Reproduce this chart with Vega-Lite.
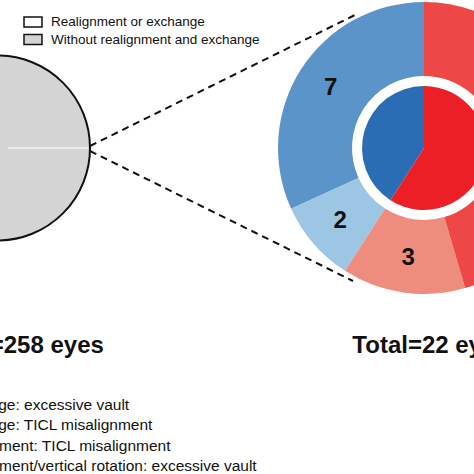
{
  "$schema": "https://vega.github.io/schema/vega-lite/v6.json",
  "width": 474,
  "height": 296,
  "autosize": "none",
  "padding": {"left": 0, "top": 0, "right": 0, "bottom": 178},
  "background": "white",
  "config": {"view": {"stroke": null}, "font": "Liberation Sans"},
  "datasets": {
    "left": [
      {"panel": "Total=258 eyes", "group": "Without realignment and exchange", "eyes": 258}
    ],
    "outer": [
      {"panel": "Total=22 eyes", "group": "Exchange: excessive vault", "eyes": 7},
      {"panel": "Total=22 eyes", "group": "Exchange: TICL misalignment", "eyes": 2},
      {"panel": "Total=22 eyes", "group": "Realignment: TICL misalignment", "eyes": 3},
      {"panel": "Total=22 eyes", "group": "Realignment/vertical rotation: excessive vault", "eyes": 10}
    ],
    "inner": [
      {"panel": "Total=22 eyes", "group": "Exchange", "eyes": 9},
      {"panel": "Total=22 eyes", "group": "Realignment", "eyes": 13}
    ],
    "connectors": [
      {"x": 90, "y": 146, "x2": 355, "y2": 15},
      {"x": 90, "y": 151, "x2": 353, "y2": 281}
    ],
    "divider": [
      {"x": 8, "y": 148, "x2": 88, "y2": 148}
    ]
  },
  "layer": [
    {
      "data": {"name": "connectors"},
      "mark": {"type": "rule", "color": "#111111", "strokeWidth": 2, "strokeDash": [7, 5]},
      "encoding": {
        "x": {"field": "x", "type": "quantitative", "scale": {"domain": [0, 474], "nice": false, "zero": false}, "axis": null},
        "x2": {"field": "x2"},
        "y": {"field": "y", "type": "quantitative", "scale": {"domain": [0, 296], "nice": false, "zero": false, "reverse": true}, "axis": null},
        "y2": {"field": "y2"}
      }
    },
    {
      "layer": [
        {
          "data": {"name": "left"},
          "mark": {"type": "arc", "radius": 92.5, "stroke": "#111111", "strokeWidth": 2},
          "encoding": {
            "theta": {"field": "eyes", "type": "quantitative", "stack": true},
            "fill": {
              "field": "group", "type": "nominal",
              "scale": {"domain": ["Realignment or exchange", "Without realignment and exchange"], "range": ["#FFFFFF", "#D4D4D4"]},
              "legend": {
                "title": null, "orient": "none", "legendX": 26, "legendY": 15, "padding": 0,
                "symbolType": "M-1.5,-0.83H1.5V0.83H-1.5Z", "symbolSize": 144,
                "symbolStrokeColor": "#111111", "symbolStrokeWidth": 1.5,
                "labelFontSize": 13.5, "labelFont": "Liberation Sans", "labelColor": "#111111",
                "labelOffset": 11, "rowPadding": 1.5, "labelLimit": 0
              }
            }
          }
        },
        {
          "data": {"name": "outer"},
          "transform": [{"window": [{"op": "row_number", "as": "idx"}]}],
          "encoding": {
            "theta": {"field": "eyes", "type": "quantitative", "stack": true, "scale": {"range": [6.283185, 0]}},
            "order": {"field": "idx", "type": "quantitative"}
          },
          "layer": [
            {
              "mark": {"type": "arc", "radius": 146, "radius2": 72},
              "encoding": {
                "fill": {
                  "field": "group", "type": "nominal",
                  "scale": {
                    "domain": ["Exchange: excessive vault", "Exchange: TICL misalignment", "Realignment: TICL misalignment", "Realignment/vertical rotation: excessive vault"],
                    "range": ["#5B94C9", "#9DC5E4", "#EE8D7E", "#EE4747"]
                  },
                  "legend": {
                    "title": null, "orient": "none", "legendX": -75, "legendY": 397, "padding": 0,
                    "symbolType": "square", "symbolSize": 100,
                    "labelFontSize": 15.5, "labelFont": "Liberation Sans", "labelColor": "#111111",
                    "labelOffset": 6, "rowPadding": 3.5, "labelLimit": 0
                  }
                }
              }
            },
            {
              "mark": {"type": "text", "radius": 111, "fontSize": 24, "fontWeight": "bold", "color": "#111111", "font": "Liberation Sans"},
              "encoding": {
                "detail": {"field": "group", "type": "nominal"},
                "text": {"field": "eyes", "type": "quantitative"}
              }
            }
          ]
        },
        {
          "data": {"name": "inner"},
          "mark": {"type": "arc", "radius": 62},
          "encoding": {
            "theta": {"field": "eyes", "type": "quantitative", "stack": true, "scale": {"range": [6.283185, 0]}},
            "fill": {
              "field": "group", "type": "nominal",
              "scale": {"domain": ["Exchange", "Realignment"], "range": ["#2B6DB4", "#EC1E26"]},
              "legend": null
            }
          }
        }
      ],
      "encoding": {
        "x": {
          "field": "panel", "type": "nominal",
          "scale": {"type": "point", "domain": ["Total=258 eyes", "Total=22 eyes"], "range": [-2.5, 424], "padding": 0},
          "axis": {
            "title": null, "domain": false, "ticks": false, "grid": false, "labelAngle": 0,
            "labelPadding": 37, "labelFontSize": 24, "labelFontWeight": "bold", "labelFont": "Liberation Sans",
            "labelColor": "#111111", "labelBound": false, "labelOverlap": false, "labelLimit": 0,
            "labelOffset": {"condition": {"test": "datum.value === 'Total=258 eyes'", "value": 21}, "value": 6}
          }
        }
      },
      "resolve": {"scale": {"theta": "independent", "fill": "independent"}}
    },
    {
      "data": {"name": "divider"},
      "mark": {"type": "rule", "color": "#FFFFFF", "strokeWidth": 1},
      "encoding": {
        "x": {"field": "x", "type": "quantitative", "scale": {"domain": [0, 474], "nice": false, "zero": false}, "axis": null},
        "x2": {"field": "x2"},
        "y": {"field": "y", "type": "quantitative", "scale": {"domain": [0, 296], "nice": false, "zero": false, "reverse": true}, "axis": null},
        "y2": {"field": "y2"}
      }
    }
  ],
  "resolve": {"scale": {"x": "independent", "y": "independent"}}
}
